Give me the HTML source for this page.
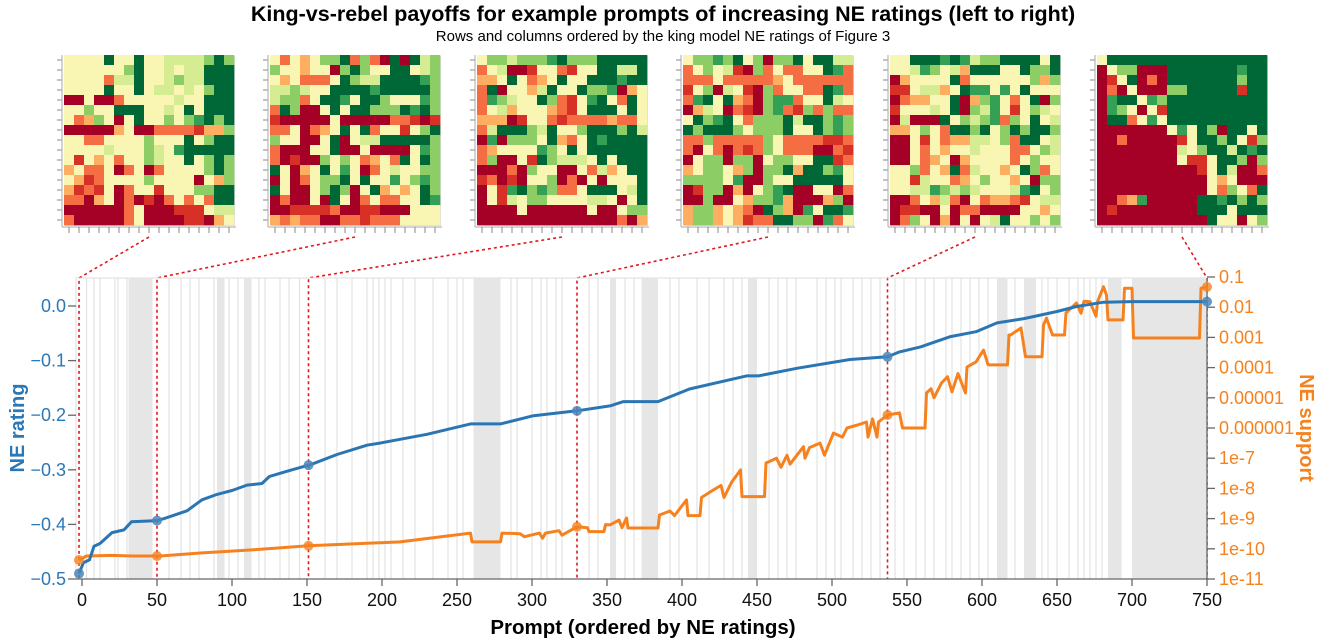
<!DOCTYPE html>
<html><head><meta charset="utf-8"><style>
html,body{margin:0;padding:0;background:#fff;}
svg{display:block;font-family:"Liberation Sans",Arial,sans-serif;}
</style></head><body>
<svg id="chart" width="1326" height="641" viewBox="0 0 1326 641" xmlns="http://www.w3.org/2000/svg">
<text x="663" y="21" text-anchor="middle" font-size="21.5" font-weight="bold">King-vs-rebel payoffs for example prompts of increasing NE ratings (left to right)</text>
<text x="663" y="41" text-anchor="middle" font-size="15">Rows and columns ordered by the king model NE ratings of Figure 3</text>
<g id="heat"></g>
<g id="plot"></g>
<text transform="translate(24,428) rotate(-90)" text-anchor="middle" font-size="20" font-weight="bold" fill="#2a78b8">NE rating</text>
<text transform="translate(1300,428) rotate(90)" text-anchor="middle" font-size="20" font-weight="bold" fill="#f5821f">NE support</text>
<text x="643" y="634" text-anchor="middle" font-size="20.5" font-weight="bold">Prompt (ordered by NE ratings)</text>
</svg>
<script>
const heatRows = [
["44448448445555686","44444468445455888","44442558445655888","44448448455454688","00400244444544888","44644888445484888","42364048446467868","00000340022221336","44224444644484688","44445444654788888","41434244654484686","34224024024444686","43124444644440436","31214024414446688","22034020102424288","00000024000111455","20000024000011034"],
["42434668262080856","64434406864488456","43422248655888876","55654488887888886","56624887488644476","28600484886668786","10000040000022101","22402348482441468","64400480455888886","20004480040000476","20100646423428486","84034847402454466","04024668484474676","84004686048343486","02004084024224487","00111120011000444","32322002212224444"],
["46656667866688888","24500144214488558","33484234844888788","28044358448667034","27654486214784284","24534443214888484","33301442122223224","25888658446888685","07066648324878888","23444476484888888","26004186555484888","00020644004253488","12010446020404448","04178676224888458","04154664444554048","00004000000400466","00000000000000203"],
["46676846066848855","24645106242244872","22242222234222222","14605410624422872","27848320677244854","03540210672162622","48678426668588676","86888646668448676","22622222642222112","20420212642220021","04660660466448812","34664360668388674","66664700644888884","01660304678004402","00600436673000360","36634320863074887","36634312288660724"],
["44888787566888848","44576453888448668","03444482444444636","11455348774748444","02334480367424806","14445480657414654","05000846567264845","33464288684686886","00414233554628845","00424344544422465","00423403444424644","44624382544348624","44154423464434066","44557656544457846","00243520423321455","01100402200004434","02640304045844646"],
["48888888888888888","04660008888888788","01480208888888688","02040006688888188","07884768888888888","07640418888888888","08824748888888888","00000004748608848","00200000148868416","00000000546885878","00000000411488606","00000000001485002","00000000000434000","00000000000426428","00237000008878686","01000000008884888","00000000000844046"]
];
const heatLeft = [64,270,477,683,890,1097];
const palette = ["#a50026","#d73027","#f46d43","#fdae61","#f9f6b3","#d5ec92","#8ccd66","#33a055","#006837"];
const exampleIdx = [-2,50,151,330,537,750];

const xTicks = [0,50,100,150,200,250,300,350,400,450,500,550,600,650,700,750];
const yLeftTicks = [0.0,-0.1,-0.2,-0.3,-0.4,-0.5];
const yLeftLabels = ["0.0","\u22120.1","\u22120.2","\u22120.3","\u22120.4","\u22120.5"];
const yRightTicks = [-1,-2,-3,-4,-5,-6,-7,-8,-9,-10,-11];
const yRightLabels = ["0.1","0.01","0.001","0.0001","0.00001","0.000001","1e-7","1e-8","1e-9","1e-10","1e-11"];

const ratingIdx = [-2,1,5,8,12,20,28,33,50,55,70,80,90,100,110,120,125,140,153,170,190,199,230,259,279,301,330,352,361,384,405,443,451,477,512,537,545,559,579,596,610,628,650,663,681,700,750];
const ratingVal = [-0.49,-0.47,-0.465,-0.44,-0.435,-0.415,-0.41,-0.395,-0.393,-0.389,-0.375,-0.355,-0.345,-0.338,-0.328,-0.325,-0.312,-0.30,-0.29,-0.272,-0.255,-0.251,-0.235,-0.216,-0.216,-0.201,-0.192,-0.183,-0.175,-0.175,-0.152,-0.128,-0.128,-0.114,-0.098,-0.093,-0.084,-0.075,-0.056,-0.047,-0.031,-0.023,-0.010,-0.001,0.007,0.008,0.008];

const supportIdx = [-2,3,20,34,52,79,112,151,212,259,260,261,279,280,292,295,305,307,309,318,320,330,337,338,348,349,352,358,360,363,364,365,373,384,385,392,395,403,404,405,412,413,421,426,428,433,439,440,445,455,456,463,466,470,472,481,482,485,492,495,501,507,510,517,523,524,527,530,531,537,545,547,548,562,563,566,568,573,577,580,584,589,590,596,601,604,605,610,617,618,619,626,629,630,640,641,643,647,648,655,656,663,666,668,672,676,677,681,683,684,694,695,700,701,745,746,750];
const supportLog = [-10.37,-10.24,-10.22,-10.24,-10.24,-10.14,-10.04,-9.9,-9.77,-9.48,-9.77,-9.77,-9.77,-9.48,-9.5,-9.6,-9.48,-9.65,-9.48,-9.4,-9.55,-9.27,-9.3,-9.43,-9.43,-9.2,-9.21,-9.05,-9.3,-8.98,-9.31,-9.31,-9.31,-9.31,-8.88,-8.75,-8.9,-8.38,-8.9,-8.9,-8.9,-8.3,-8.05,-7.9,-8.3,-7.8,-7.39,-8.27,-8.27,-8.27,-7.16,-7.0,-7.3,-6.9,-7.2,-6.62,-7.0,-6.65,-6.5,-6.9,-6.17,-6.3,-6.0,-5.9,-5.8,-6.3,-5.7,-6.3,-5.8,-5.57,-5.5,-6.0,-6.0,-6.0,-4.84,-4.7,-5.0,-4.51,-4.3,-4.8,-4.2,-4.84,-3.98,-3.81,-3.42,-3.9,-3.91,-3.91,-3.91,-2.92,-2.92,-2.69,-3.64,-3.64,-3.64,-2.59,-2.36,-2.92,-2.92,-2.92,-2.19,-1.86,-2.2,-1.8,-1.82,-2.3,-1.82,-1.32,-1.6,-2.42,-2.42,-1.37,-1.37,-3.02,-3.02,-1.37,-1.33];

const bandStart = [31,90,108,261,352,373,444,610,628,684,700];
const bandEnd = [47,95,113,279,356,384,450,617,636,693,750];
const thinLines = [3,8,12,22,24,30,58,66,72,78,88,98,104,118,122,132,138,145,162,170,180,190,194,198,202,206,214,222,234,244,250,254,286,290,300,306,310,316,320,338,344,362,368,392,398,410,418,428,434,440,458,464,470,476,490,496,502,506,514,520,526,532,542,548,556,562,568,576,580,586,592,598,604,622,640,644,650,658,664,668,672,676,680];

const NS = "http://www.w3.org/2000/svg";
function mk(tag, attrs, parent){const e=document.createElementNS(NS,tag);for(const k in attrs)e.setAttribute(k,attrs[k]);parent.appendChild(e);return e;}
const X0=82, XS=1.5, PT=278, PB=579, PL=76, PR=1207;
const xS = i => X0 + XS*i;
const yL = v => 306 - 546*v;
const yR = l => 277 + (-1 - l)*30.2;

const heat = document.getElementById('heat');
const cell = 10;
const HT = 55;
heatRows.forEach((rows, h) => {
  const g = mk('g', {}, heat);
  
  
  const left = heatLeft[h];
  const sh = mk('rect', {x:left+1,y:HT+1,width:170,height:170,fill:'#ddd'}, g);
  
  
  rows.forEach((row, r) => {
    for (let c = 0; c < row.length; c++) {
      const rc = mk('rect', {x:left+c*cell, y:HT+r*cell, width:cell+0.3, height:cell+0.3, fill:palette[+row[c]]}, g);
      
      
    }
    const t = mk('line', {x1:left-7, x2:left-2, y1:HT+r*cell+5, y2:HT+r*cell+5, stroke:'#888', 'stroke-width':1}, g);
    
    
  });
  const ax = mk('line', {x1:left-2, x2:left-2, y1:HT, y2:HT+172, stroke:'#aaa'}, g);
  
  
  const bx = mk('line', {x1:left-2, x2:left+172, y1:HT+172, y2:HT+172, stroke:'#aaa'}, g);
  
  
  for (let c = 0; c < 17; c++) {
    const t = mk('line', {x1:left+c*cell+5, x2:left+c*cell+5, y1:HT+172, y2:HT+178, stroke:'#888'}, g);
    
    
  }
  const xe = xS(exampleIdx[h]);
  const con = mk('polyline', {points:`${left+85},${HT+182} ${xe},${PT} ${xe},${PB}`, fill:'none', stroke:'#e0191e', 'stroke-width':1.6, 'stroke-dasharray':'3,3'}, heat);
  
  
});

const plot = document.getElementById('plot');
const frame = mk('rect', {x:PL, y:PT, width:PR-PL, height:PB-PT, fill:'none', stroke:'#ddd'}, plot);


bandStart.forEach((s, k) => {
  const b = mk('rect', {x:xS(s), y:PT, width:xS(bandEnd[k])-xS(s), height:PB-PT, fill:'#e6e6e6'}, plot);
  
  
});
thinLines.forEach(i => {
  const l = mk('line', {x1:xS(i), x2:xS(i), y1:PT, y2:PB, stroke:'#e2e2e2', 'stroke-width':1.2}, plot);
  
  
});
const xa = mk('line', {x1:PL, x2:PR+2, y1:PB, y2:PB, stroke:'#666', 'stroke-width':1.3}, plot);


const ya = mk('line', {x1:PR, x2:PR, y1:PT, y2:PB, stroke:'#666', 'stroke-width':1.3}, plot);


xTicks.forEach(v => {
  const t = mk('line', {x1:xS(v), x2:xS(v), y1:PB, y2:PB+7, stroke:'#666', 'stroke-width':1.3}, plot);
  
  
  const tx = mk('text', {x:xS(v), y:PB+27, 'text-anchor':'middle', 'font-size':18, fill:'#111'}, plot);
  
  
  tx.textContent = v;
});
yLeftTicks.forEach((v, k) => {
  const t = mk('line', {x1:PL-8, x2:PL, y1:yL(v), y2:yL(v), stroke:'#666', 'stroke-width':1.3}, plot);
  
  
  const tx = mk('text', {x:PL-10, y:yL(v)+6, 'text-anchor':'end', 'font-size':18, fill:'#2a78b8'}, plot);
  
  
  tx.textContent = yLeftLabels[k];
});
yRightTicks.forEach((v, k) => {
  const t = mk('line', {x1:PR, x2:PR+8, y1:yR(v), y2:yR(v), stroke:'#666', 'stroke-width':1.3}, plot);
  
  
  const tx = mk('text', {x:PR+12, y:yR(v)+6, 'text-anchor':'start', 'font-size':18, fill:'#f5821f'}, plot);
  
  
  tx.textContent = yRightLabels[k];
});
let sp = [];
supportIdx.forEach((i, k) => { sp.push(xS(i).toFixed(1)+','+yR(supportLog[k]).toFixed(1)); });
const sl = mk('polyline', {points:sp.join(' '), fill:'none', stroke:'#f5821f', 'stroke-width':3, 'stroke-linejoin':'round'}, plot);


let rp = [];
ratingIdx.forEach((i, k) => { rp.push(xS(i).toFixed(1)+','+yL(ratingVal[k]).toFixed(1)); });
const rl = mk('polyline', {points:rp.join(' '), fill:'none', stroke:'#2a76b4', 'stroke-width':3, 'stroke-linejoin':'round'}, plot);


function interp(ix, vals, i){ for(let k=1;k<ix.length;k++){ if(i<=ix[k]){ const t=(i-ix[k-1])/(ix[k]-ix[k-1]||1); return vals[k-1]+t*(vals[k]-vals[k-1]); } } return vals[vals.length-1]; }
exampleIdx.forEach(i => {
  const d1 = mk('circle', {cx:xS(i), cy:yR(interp(supportIdx, supportLog, i)), r:5, fill:'#f5821f', opacity:0.8}, plot);
  
  
  const d2 = mk('circle', {cx:xS(i), cy:yL(interp(ratingIdx, ratingVal, i)), r:5, fill:'#4a86b8', opacity:0.85}, plot);
  
  
});
</script>
</body></html>
